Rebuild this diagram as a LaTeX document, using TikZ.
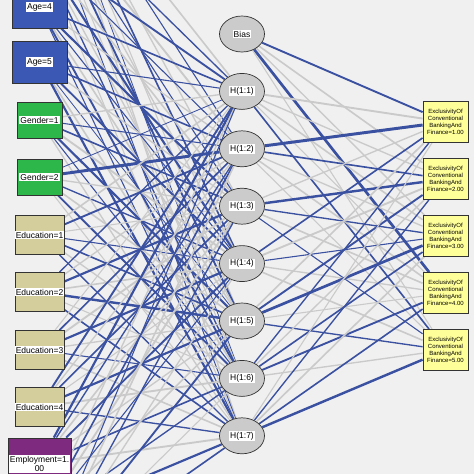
\documentclass[tikz,border=0pt]{standalone}
\usepackage{fontspec}
\setmainfont{Liberation Sans}
\usetikzlibrary{shapes.geometric,backgrounds}
\definecolor{bggrey}{HTML}{F0F0F0}
\definecolor{posblue}{HTML}{3A50A0}
\definecolor{neggrey}{HTML}{CACACA}
\definecolor{agefill}{HTML}{3A58B4}
\definecolor{genfill}{HTML}{2DB64A}
\definecolor{edufill}{HTML}{D4CD9C}
\definecolor{empfill}{HTML}{7E2A7F}
\definecolor{hidfill}{HTML}{CBCBCB}
\definecolor{outfill}{HTML}{FFFF99}
\definecolor{edgeline}{HTML}{333333}
\tikzset{
  inbox/.style  = {draw=edgeline, line width=0.8pt, inner sep=0pt,
                   minimum width=49pt, minimum height=39pt},
  agebox/.style = {inbox, fill=agefill, minimum width=55pt, minimum height=42pt},
  genbox/.style = {inbox, fill=genfill, minimum width=45pt, minimum height=36pt},
  edubox/.style = {inbox, fill=edufill},
  empbox/.style = {inbox, fill=empfill, minimum width=63pt, minimum height=52pt},
  lbl/.style    = {fill=white, inner sep=1pt, align=center,
                   font=\fontsize{8.5}{9.5}\selectfont},
  hid/.style    = {ellipse, draw=edgeline, fill=hidfill, line width=0.7pt,
                   minimum width=45pt, minimum height=36pt, inner sep=0pt},
  outbox/.style = {draw=edgeline, fill=outfill, line width=0.8pt, align=center,
                   minimum width=45pt, minimum height=41pt, inner sep=0pt,
                   font=\fontsize{6}{7.2}\selectfont},
  wpos/.style   = {draw=posblue},
  wneg/.style   = {draw=neggrey},
}

\begin{document}
\begin{tikzpicture}[x=1pt, y=-1pt]
  \useasboundingbox (0,0) rectangle (474,474);

  % --- input layer ---
  \coordinate (x1) at (39.5,-165);
  \coordinate (x2) at (39.5,-107);
  \coordinate (x3) at (39.5,-50);
  \node[agebox, label={[lbl]center:Age=4}] (ag4) at (39.5,7) {};
  \node[agebox, label={[lbl]center:Age=5}] (ag5) at (39.5,62) {};
  \node[genbox, label={[lbl]center:Gender=1}] (gd1) at (39.5,120) {};
  \node[genbox, label={[lbl]center:Gender=2}] (gd2) at (39.5,177) {};
  \node[edubox, label={[lbl]center:Education=1}] (ed1) at (39.5,235) {};
  \node[edubox, label={[lbl]center:Education=2}] (ed2) at (39.5,292) {};
  \node[edubox, label={[lbl]center:Education=3}] (ed3) at (39.5,350) {};
  \node[edubox, label={[lbl]center:Education=4}] (ed4) at (39.5,407) {};
  \node[empbox, label={[lbl]center:Employment=1.\\00}] (em1) at (39.5,464) {};
  \coordinate (x4) at (39.5,521);
  \coordinate (x5) at (39.5,578);

  % --- hidden layer ---
  \node[hid, label={[lbl]center:Bias}] (bias) at (242,34) {};
  \foreach \i in {1,...,7}
    \node[hid, label={[lbl]center:H(1:\i)}] (h\i) at (242,{34+57.4*\i}) {};

  % --- output layer ---
  \foreach \i/\v in {1/1.00,2/2.00,3/3.00,4/4.00,5/5.00}
    \node[outbox] (o\i) at (445.5,{122+57*(\i-1)})
      {ExclusivityOf\\Conventional\\BankingAnd\\Finance=\v};

  \begin{scope}[on background layer]
    \clip (0,0) rectangle (474,474);
    \fill[bggrey] (0,0) rectangle (474,474);
    % input -> hidden
    \foreach \s/\ws in {
        x1/{wneg/1.2,wpos/0.8,wneg/1,wpos/1.2,wneg/0.8,wpos/0.6,wneg/1},
        x2/{wpos/1,wneg/1.4,wpos/0.8,wneg/1,wpos/1.4,wneg/0.8,wpos/0.7},
        x3/{wpos/1.4,wpos/0.8,wneg/1.2,wpos/1.6,wneg/1,wpos/1,wneg/0.8},
        ag4/{wpos/1.2,wneg/1,wpos/1.6,wpos/0.8,wneg/1.2,wpos/1.4,wpos/0.8},
        ag5/{wpos/0.8,wpos/1.2,wneg/1,wpos/1.4,wpos/0.6,wneg/1.2,wpos/1.6},
        gd1/{wneg/1,wpos/0.8,wpos/1.2,wneg/1.4,wpos/1.6,wpos/0.8,wneg/1},
        gd2/{wpos/0.6,wpos/2.2,wneg/1,wpos/1,wneg/1.2,wpos/1.4,wneg/0.8},
        ed1/{wneg/1.2,wpos/1.4,wneg/0.8,wpos/0.8,wpos/1.2,wneg/1,wpos/1},
        ed2/{wpos/1,wneg/1,wpos/1.6,wneg/1.2,wpos/1.8,wneg/0.8,wpos/1.2},
        ed3/{wneg/0.8,wpos/1.2,wneg/1.4,wpos/1.6,wneg/1,wpos/0.8,wneg/1.2},
        ed4/{wpos/1.4,wneg/1,wpos/1.2,wneg/0.8,wpos/1.6,wneg/1.4,wpos/1},
        em1/{wpos/1.6,wpos/1,wneg/1.2,wpos/1.4,wneg/1,wpos/1.2,wneg/1.4},
        x4/{wneg/1,wpos/1.2,wneg/1.4,wpos/0.8,wneg/1.2,wpos/1,wpos/1.6},
        x5/{wpos/0.8,wneg/1.2,wpos/1,wneg/1,wpos/1.4,wneg/0.8,wpos/1.2}}
      \foreach \c/\w [count=\h] in \ws
        \draw[\c, line width=1.35*\w pt] (\s) -- (h\h);
    % hidden -> output
    \foreach \s/\ws in {
        bias/{wpos/1.4,wneg/1.2,wneg/1,wpos/2,wneg/0.8},
        h1/{wneg/1.4,wneg/1,wneg/1.2,wneg/0.8,wpos/1.2},
        h2/{wpos/2.2,wpos/1.2,wneg/1,wneg/1.2,wneg/0.8},
        h3/{wneg/1,wpos/1.8,wpos/1,wneg/1.2,wpos/0.8},
        h4/{wpos/1.2,wneg/1.4,wpos/0.8,wneg/1,wneg/1.2},
        h5/{wneg/1.2,wpos/1.4,wpos/2,wneg/0.8,wpos/1},
        h6/{wpos/1,wneg/1,wpos/1.2,wpos/1.4,wneg/1},
        h7/{wneg/0.8,wpos/1,wneg/1.2,wpos/1.2,wpos/1.8}}
      \foreach \c/\w [count=\o] in \ws
        \draw[\c, line width=1.35*\w pt] (\s) -- (o\o);
  \end{scope}
\end{tikzpicture}
\end{document}
